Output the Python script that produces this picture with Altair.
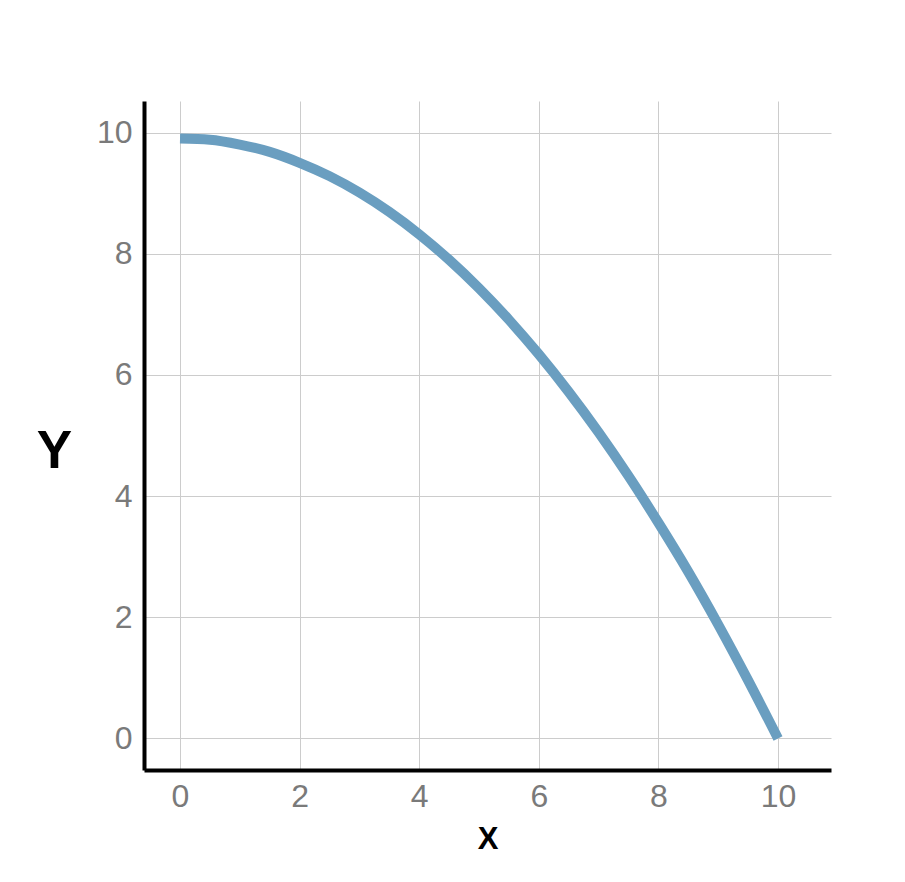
import altair as alt
import pandas as pd

x_vals = [0, 0.5, 1, 1.5, 2, 2.5, 3, 3.5, 4, 4.5, 5, 5.5, 6, 6.5, 7, 7.5, 8, 8.5, 9, 9.5, 10]
y_vals = [9.9, 9.88, 9.8, 9.68, 9.5, 9.28, 9.01, 8.69, 8.32, 7.9, 7.43, 6.91, 6.34, 5.72, 5.05, 4.33, 3.56, 2.75, 1.88, 0.96, 0.0]
tick_vals = [0, 2, 4, 6, 8, 10]

df = pd.DataFrame({"x": x_vals, "y": y_vals})

chart = alt.Chart(df).mark_line(
    color="#6a9ec0", strokeWidth=10, strokeCap="butt", interpolate="monotone"
).encode(
    x=alt.X("x:Q", scale=alt.Scale(domain=[-0.602, 10.886], nice=False, zero=False),
            axis=alt.Axis(values=tick_vals, title="X", ticks=False, labelPadding=11,
                          titlePadding=12, format="d")),
    y=alt.Y("y:Q", scale=alt.Scale(domain=[-0.52, 10.52], nice=False, zero=False),
            axis=alt.Axis(values=tick_vals, title="Y", ticks=False, labelPadding=12,
                          titleAngle=0, titleX=-90, titleY=350, titleAlign="center",
                          titleBaseline="middle", titleFontSize=53, format="d")),
).properties(
    width=687, height=669,
    autosize=alt.AutoSizeParams(type="none"),
    padding={"left": 136, "top": 93, "right": 60, "bottom": 90},
).configure_axis(
    domainColor="black", domainWidth=4,
    gridColor="#cccccc", gridWidth=1,
    labelFont="Liberation Sans", labelFontSize=32, labelColor="#7a7a7a",
    titleFont="Liberation Sans", titleFontSize=31, titleFontWeight="bold", titleColor="black",
).configure_view(stroke=None)

chart.save("out.html", embed_options={"renderer": "svg", "actions": False})
